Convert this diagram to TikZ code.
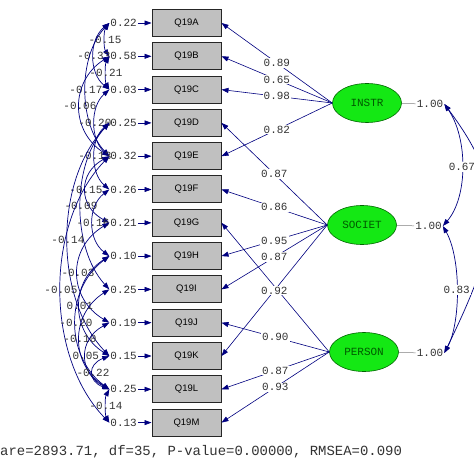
\documentclass[tikz,border=0pt]{standalone}
\usepackage{fontspec}
\setmainfont{Liberation Sans}
\newfontfamily\monofont{Liberation Mono}
\usetikzlibrary{shapes.geometric, arrows.meta}

\definecolor{lisnavy}{RGB}{0,0,128}
\definecolor{lisgreen}{RGB}{20,232,20}
\definecolor{latgreen}{RGB}{0,90,0}
\definecolor{boxgray}{RGB}{192,192,192}

\tikzset{
  qbox/.style={draw=black!85, line width=1bp, fill=boxgray, minimum width=69bp, minimum height=27bp, inner sep=0pt, font=\fontsize{9.5}{10}\selectfont},
  latent/.style={ellipse, draw=black!60!green, line width=0.6bp, fill=lisgreen, minimum width=69bp, minimum height=39bp, inner sep=0pt, text=latgreen, font=\monofont\fontsize{11}{12}\selectfont},
  num/.style={inner sep=1bp, text=black!80, font=\monofont\fontsize{11}{12}\selectfont},
  lab/.style={num, fill=white},
  clab/.style={num},
  load/.style={draw=lisnavy, line width=0.6bp, -{Triangle[length=7bp,width=5bp]}},
  cov/.style={draw=lisnavy, line width=0.7bp, {Triangle[length=7bp,width=5bp]}-{Triangle[length=7bp,width=5bp]}},
}

\begin{document}
\begin{tikzpicture}[x=1bp, y=-1bp]
\useasboundingbox (0,0) rectangle (474,474);
\fill[white] (0,0) rectangle (474,474);
\clip (0,0) rectangle (474,474);

% indicators and their error terms
\foreach \q/\ev [count=\i from 0] in {A/0.22, B/0.58, C/0.03, D/0.25, E/0.32, F/0.26, G/0.21, H/0.10, I/0.25, J/0.19, K/0.15, L/0.25, M/0.13} {
  \node[qbox] (q\q) at (186.5, {23+33.3*\i}) {Q19\q};
  \node[num, anchor=east] (e\q) at (138, {23+33.3*\i}) {\ev};
  \draw[load] (e\q) -- (q\q);
}

% latent variables
\node[latent] (instr) at (367,103) {INSTR};
\node[latent] (societ) at (362,225) {SOCIET};
\node[latent] (person) at (364,352) {PERSON};

\node[num] (vI) at (430,104) {1.00};
\node[num] (vS) at (428.5,226) {1.00};
\node[num] (vP) at (430,353) {1.00};
\draw[gray, line width=0.5bp] (instr) -- (vI)
    (societ) -- (vS)
    (person) -- (vP);

% loadings
\draw[load] (person.west) -- (qG.east);
\draw[load] (instr.west) -- node[lab] {0.89} (qA.east);
\draw[load] (instr.west) -- node[lab] {0.65} (qB.east);
\draw[load] (instr.west) -- node[lab] {0.98} (qC.east);
\draw[load] (instr.west) -- node[lab] {0.82} (qE.east);
\draw[load] (societ.west) -- node[lab] {0.87} (qD.east);
\draw[load] (societ.west) -- node[lab] {0.86} (qF.east);
\draw[load] (societ.west) -- node[lab] {0.95} (qH.east);
\draw[load] (societ.west) -- node[lab] {0.87} (qI.east);
\draw[load] (societ.west) -- node[lab] {0.92} (qK.east);
\draw[load] (person.west) -- node[lab] {0.90} (qJ.east);
\draw[load] (person.west) -- node[lab] {0.87} (qL.east);
\draw[load] (person.west) -- node[lab] {0.93} (qM.east);

% factor covariances
\draw[cov] (vI.east) .. controls (507,188) and (503,233) .. (vP.east);
\draw[cov] (vI.east) .. controls (468,138) and (468,197) .. node[lab] {0.67} (vS.east);
\draw[cov] (vS.east) .. controls (461,258) and (461,322) .. node[lab] {0.83} (vP.east);

% error covariances
\draw[cov] (eA.west) .. controls (103.5,31.3) and (103.5,48) .. node[clab] {-0.15} (eB.west);
\draw[cov] (eA.west) .. controls (88.8,39.6) and (88.8,73) .. node[clab] {-0.33} (eC.west);
\draw[cov] (eB.west) .. controls (104.8,64.6) and (104.8,81.3) .. node[clab] {-0.21} (eC.west);
\draw[cov] (eA.west) .. controls (78.1,56.3) and (78.1,122.9) .. node[clab] {-0.17} (eE.west);
\draw[cov] (eB.west) .. controls (70.1,81.3) and (70.1,131.2) .. node[clab] {-0.06} (eE.west);
\draw[cov] (eC.west) .. controls (90.1,106.3) and (90.1,139.5) .. node[clab] {-0.20} (eE.west);
\draw[cov] (eD.west) .. controls (90.1,139.5) and (90.1,172.9) .. node[clab] {-0.13} (eF.west);
\draw[cov] (eE.west) .. controls (78.1,172.9) and (78.1,206.1) .. node[clab] {-0.15} (eG.west);
\draw[cov] (eD.west) .. controls (71.5,164.5) and (71.5,247.8) .. node[clab] {-0.09} (eI.west);
\draw[cov] (eF.west) .. controls (87.5,206.1) and (87.5,239.5) .. node[clab] {-0.16} (eH.west);
\draw[cov] (eD.west) .. controls (54.1,181.2) and (54.1,297.7) .. node[clab] {-0.14} (eK.west);
\draw[cov] (eG.west) .. controls (67.5,247.8) and (67.5,297.7) .. node[clab] {-0.03} (eJ.west);
\draw[cov] (eE.west) .. controls (44.8,222.8) and (44.8,356) .. node[clab] {-0.05} (eM.west);
\draw[cov] (eH.west) .. controls (70.1,281.1) and (70.1,331) .. node[clab] {0.01} (eK.west);
\draw[cov] (eH.west) .. controls (64.8,289.4) and (64.8,356) .. node[clab] {-0.20} (eL.west);
\draw[cov] (eI.west) .. controls (70.1,314.4) and (70.1,364.3) .. node[clab] {-0.10} (eL.west);
\draw[cov] (eJ.west) .. controls (78.1,339.4) and (78.1,372.6) .. node[clab] {0.05} (eL.west);
\draw[cov] (eK.west) .. controls (87.5,364.3) and (87.5,381) .. node[clab] {-0.22} (eL.west);
\draw[cov] (eL.west) .. controls (104.8,397.6) and (104.8,414.3) .. node[clab] {-0.14} (eM.west);

% fit statistics
\node[num, font=\monofont\fontsize{14}{16}\selectfont, anchor=west] (fit) at (-1,452) {are=2893.71, df=35, P-value=0.00000, RMSEA=0.090};
\end{tikzpicture}
\end{document}
